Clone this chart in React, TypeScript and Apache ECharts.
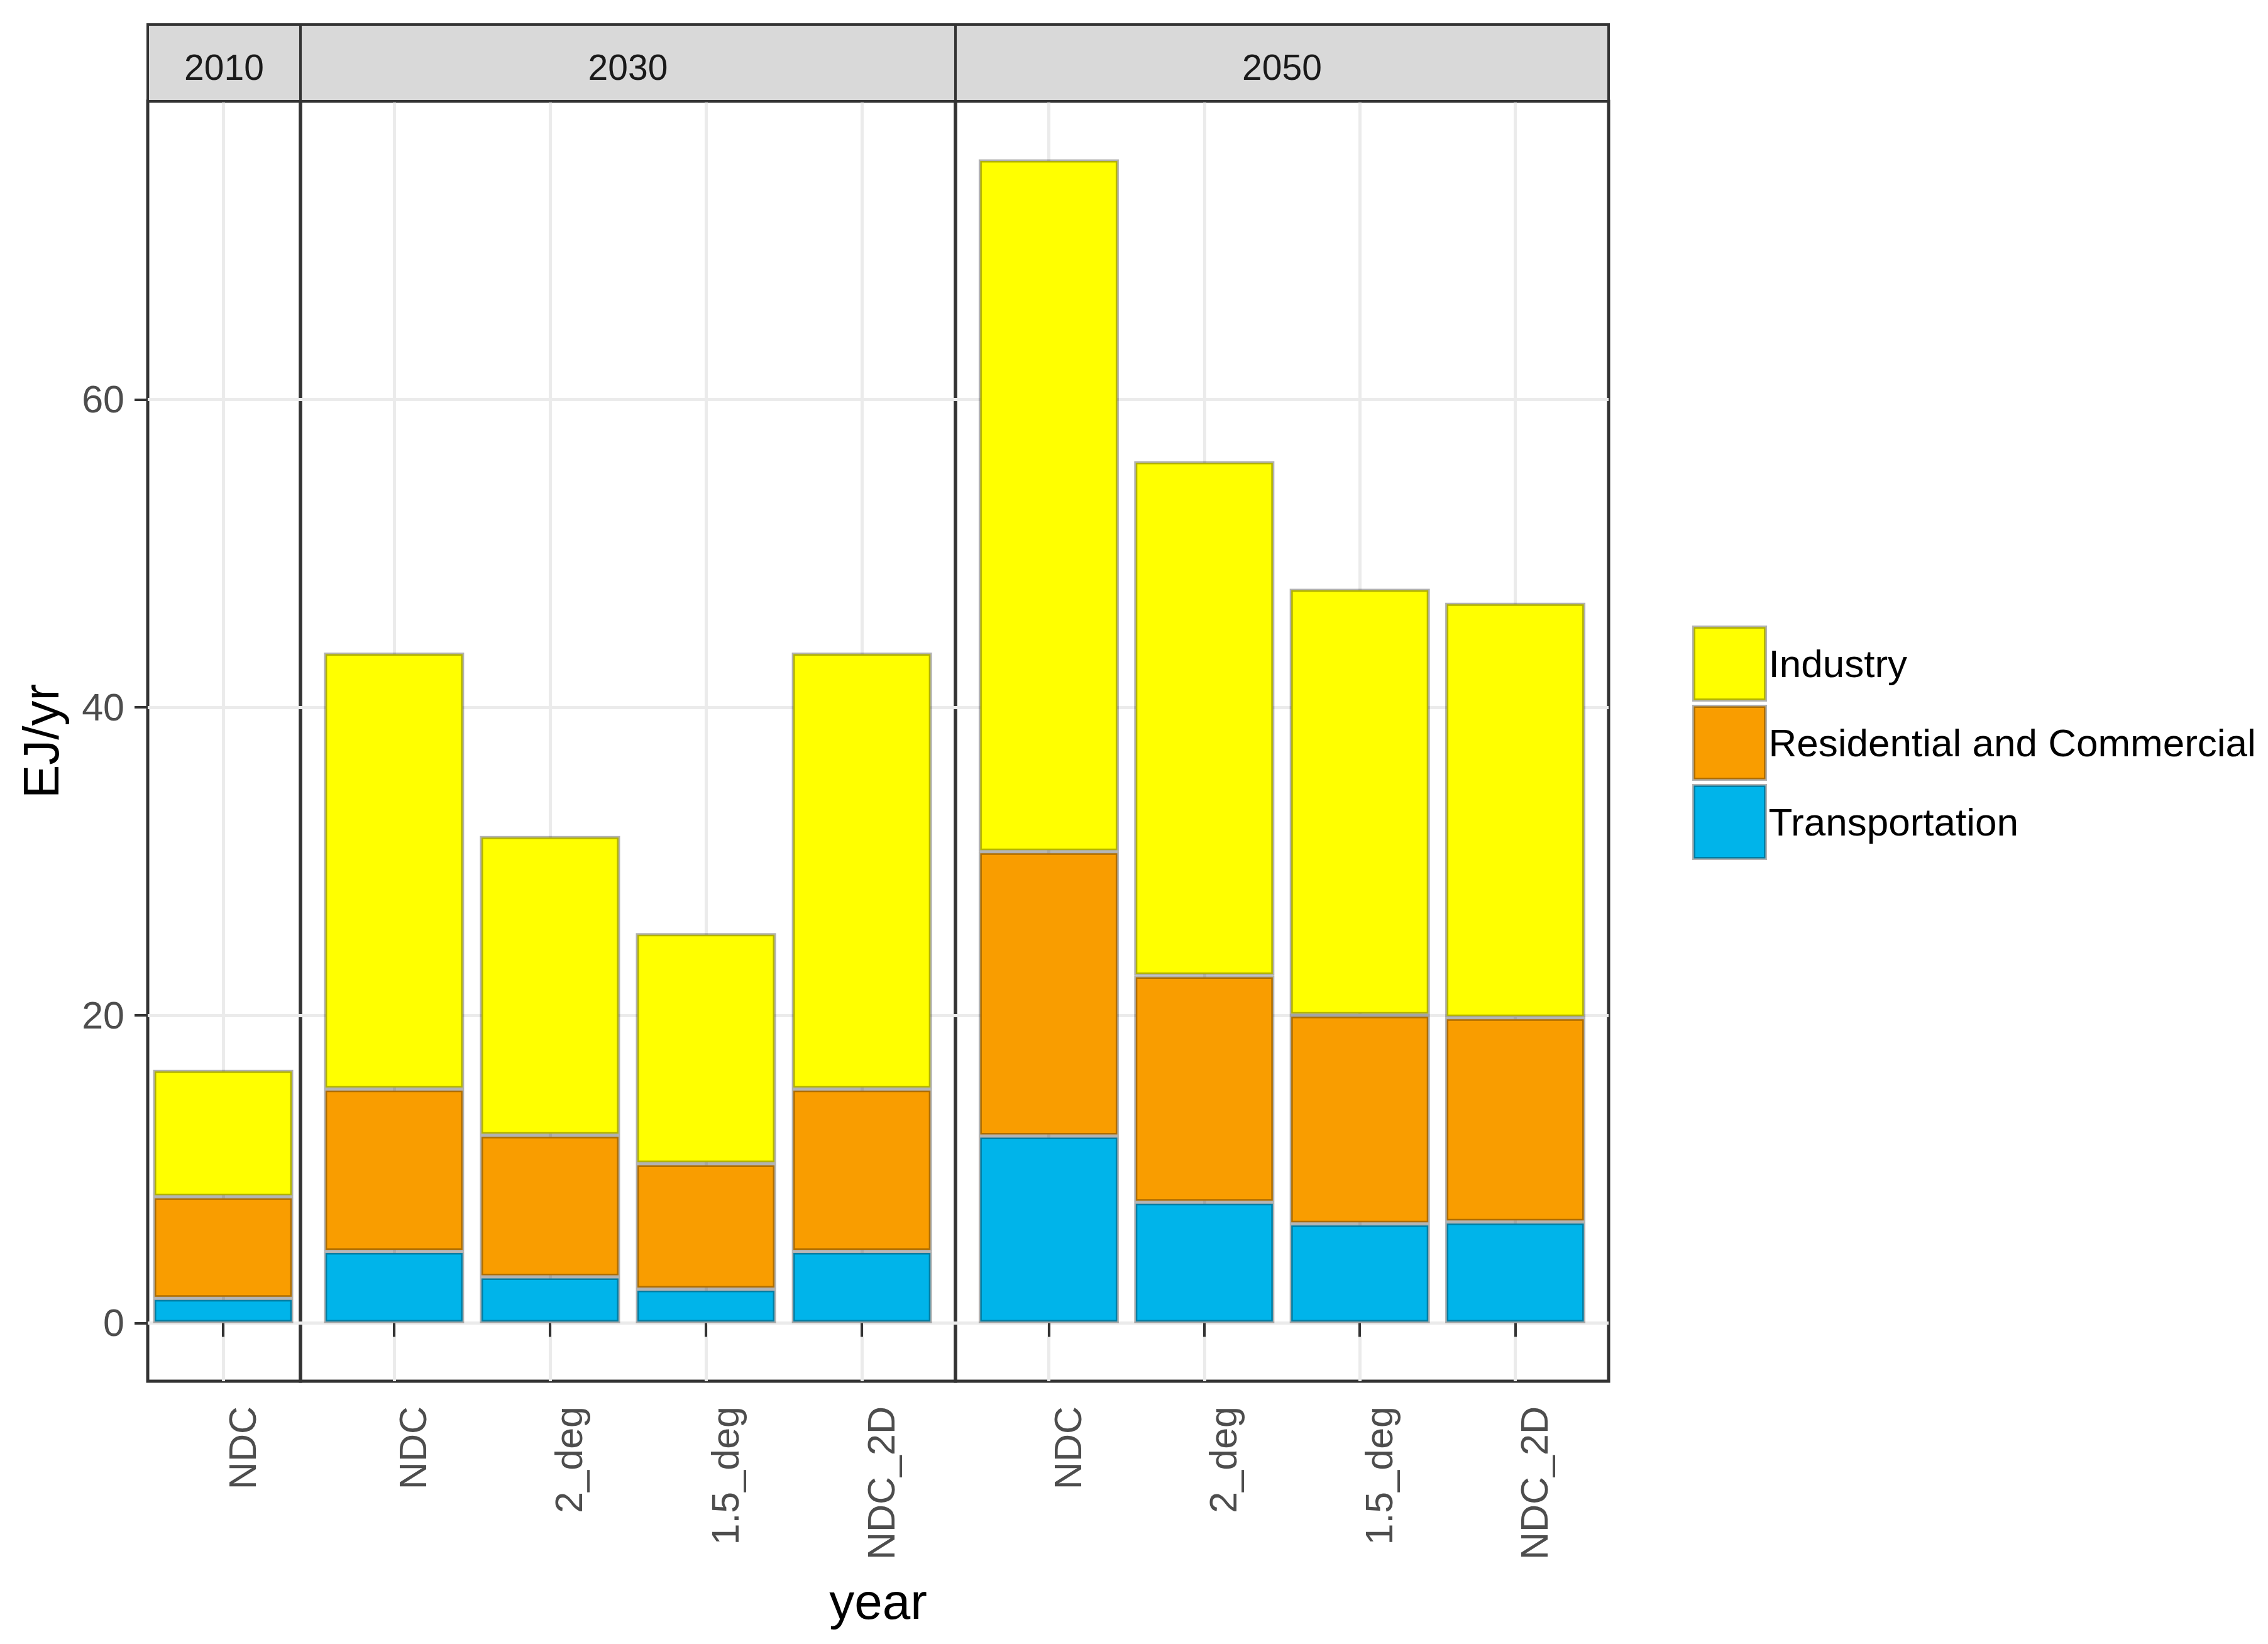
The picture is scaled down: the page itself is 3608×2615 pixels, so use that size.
import React, { useEffect, useRef } from "react";
import * as echarts from "echarts";

// ---- data ----
const facets = ["2010", "2030", "2050"];
const scenarios2010 = ["NDC"];
const scenarios2030 = ["NDC", "2_deg", "1.5_deg", "NDC_2D"];
const scenarios2050 = ["NDC", "2_deg", "1.5_deg", "NDC_2D"];

const sectors = ["Transportation", "Residential and Commercial", "Industry"];
const legendOrder = ["Industry", "Residential and Commercial", "Transportation"];
const sectorColors = ["#00B4EA", "#F99D00", "#FFFF00"];

const transportation2010 = [1.6];
const residential2010 = [6.6];
const industry2010 = [8.25];

const transportation2030 = [4.65, 3.0, 2.2, 4.65];
const residential2030 = [10.55, 9.2, 8.15, 10.55];
const industry2030 = [28.36, 19.44, 14.98, 28.36];

const transportation2050 = [12.15, 7.85, 6.44, 6.56];
const residential2050 = [18.47, 14.72, 13.56, 13.28];
const industry2050 = [44.98, 33.43, 27.7, 26.96];

const yTicks = [0, 20, 40, 60];

const facetScenarios = [scenarios2010, scenarios2030, scenarios2050];
const facetValues = [
  [transportation2010, residential2010, industry2010],
  [transportation2030, residential2030, industry2030],
  [transportation2050, residential2050, industry2050],
];

// ---- layout ----
const W = 3608;
const H = 2615;
const FONT = "'Liberation Sans', Arial, sans-serif";
const panelLeft = [235, 478, 1520];
const panelWidth = [243, 1042, 1039];
const panelTop = 161;
const panelHeight = 2036;
const stripTop = 39;
const xRanges = [
  [0.516, 1.496],
  [0.4, 4.6],
  [0.4, 4.6],
];

export default function App() {
  const ref = useRef<HTMLDivElement>(null);

  useEffect(() => {
    if (!ref.current) return;
    const chart = echarts.init(ref.current, null, { renderer: "svg" });

    const totals: number[] = [];
    facetValues.forEach((fv) => {
      fv[0].forEach((_, j) => {
        totals.push(fv.reduce((s, arr) => s + arr[j], 0));
      });
    });
    const maxTotal = Math.max(...totals);
    const yMin = -0.05 * maxTotal;
    const yMax = 1.05 * maxTotal;

    const grids = facets.map((_, i) => ({
      left: panelLeft[i],
      width: panelWidth[i],
      top: panelTop,
      height: panelHeight,
      show: true,
      borderColor: "#333333",
      borderWidth: 5,
      backgroundColor: "transparent",
      containLabel: false,
    }));

    const xAxes = facets.map((_, i) => {
      const cats = facetScenarios[i];
      const pos = cats.map((_, j) => j + 1);
      return {
        type: "value",
        gridIndex: i,
        min: xRanges[i][0],
        max: xRanges[i][1],
        minInterval: 1,
        maxInterval: 1,
        axisLine: { show: false },
        axisTick: {
          show: true,
          length: 22,
          customValues: pos,
          lineStyle: { color: "#333333", width: 4 },
        },
        axisLabel: {
          show: true,
          customValues: pos,
          formatter: (v: number) => cats[Math.round(v) - 1] ?? "",
          rotate: 90,
          fontSize: 61,
          fontFamily: FONT,
          color: "#4D4D4D",
          margin: 40,
          verticalAlign: "top",
        },
        splitLine: { show: true, lineStyle: { color: "#EBEBEB", width: 5 } },
      };
    });

    const yAxes = facets.map((_, i) => ({
      type: "value",
      gridIndex: i,
      min: yMin,
      max: yMax,
      minInterval: 20,
      maxInterval: 20,
      axisLine: { show: false },
      axisTick: {
        show: i === 0,
        length: 21,
        customValues: yTicks,
        lineStyle: { color: "#333333", width: 4 },
      },
      axisLabel: {
        show: i === 0,
        customValues: yTicks,
        fontSize: 61,
        fontFamily: FONT,
        color: "#4D4D4D",
        margin: 37,
      },
      splitLine: { show: true, lineStyle: { color: "#EBEBEB", width: 5 } },
    }));

    const series: any[] = [];
    facets.forEach((_, i) => {
      sectors.forEach((s, k) => {
        series.push({
          type: "bar",
          name: s,
          xAxisIndex: i,
          yAxisIndex: i,
          stack: "facet" + i,
          barWidth: 223,
          encode: { x: 1, y: 0 },
          data: facetValues[i][k].map((v, j) => [v, j + 1]),
          itemStyle: {
            color: sectorColors[k],
            borderColor: "rgba(0,0,0,0.3)",
            borderWidth: 5,
          },
          emphasis: { disabled: true },
        });
      });
    });

    const graphics: any[] = [];
    facets.forEach((f, i) => {
      graphics.push({
        type: "rect",
        shape: { x: panelLeft[i], y: stripTop, width: panelWidth[i], height: panelTop - stripTop },
        style: { fill: "#D9D9D9", stroke: "#333333", lineWidth: 4 },
        z: 10,
      });
      graphics.push({
        type: "text",
        x: panelLeft[i] + panelWidth[i] / 2,
        y: 107,
        style: {
          text: f,
          fontSize: 57,
          fontFamily: FONT,
          fill: "#1A1A1A",
          align: "center",
          verticalAlign: "middle",
          textAlign: "center",
          textVerticalAlign: "middle",
        },
        z: 11,
      });
    });
    graphics.push({
      type: "text",
      x: 65,
      y: panelTop + panelHeight / 2,
      rotation: Math.PI / 2,
      style: {
        text: "EJ/yr",
        fontSize: 80,
        fontFamily: FONT,
        fill: "#000000",
        align: "center",
        verticalAlign: "middle",
        textAlign: "center",
        textVerticalAlign: "middle",
      },
    });
    graphics.push({
      type: "text",
      x: panelLeft[0] + (panelLeft[2] + panelWidth[2] - panelLeft[0]) / 2,
      y: 2547,
      style: {
        text: "year",
        fontSize: 80,
        fontFamily: FONT,
        fill: "#000000",
        align: "center",
        verticalAlign: "middle",
        textAlign: "center",
        textVerticalAlign: "middle",
      },
    });

    chart.setOption({
      animation: false,
      backgroundColor: "#FFFFFF",
      grid: grids,
      xAxis: xAxes,
      yAxis: yAxes,
      series,
      legend: {
        data: legendOrder,
        orient: "vertical",
        left: 2687,
        top: 990,
        itemWidth: 114,
        itemHeight: 116,
        itemGap: 5,
        icon: "rect",
        selectedMode: false,
        textStyle: { fontSize: 62, color: "#000000", fontFamily: FONT },
        itemStyle: { borderColor: "rgba(0,0,0,0.3)", borderWidth: 5 },
      },
      graphic: graphics,
    });

    return () => chart.dispose();
  }, []);

  return (
    <div
      ref={ref}
      style={{ position: "absolute", left: 0, top: 0, width: W, height: H, background: "#fff" }}
    />
  );
}
